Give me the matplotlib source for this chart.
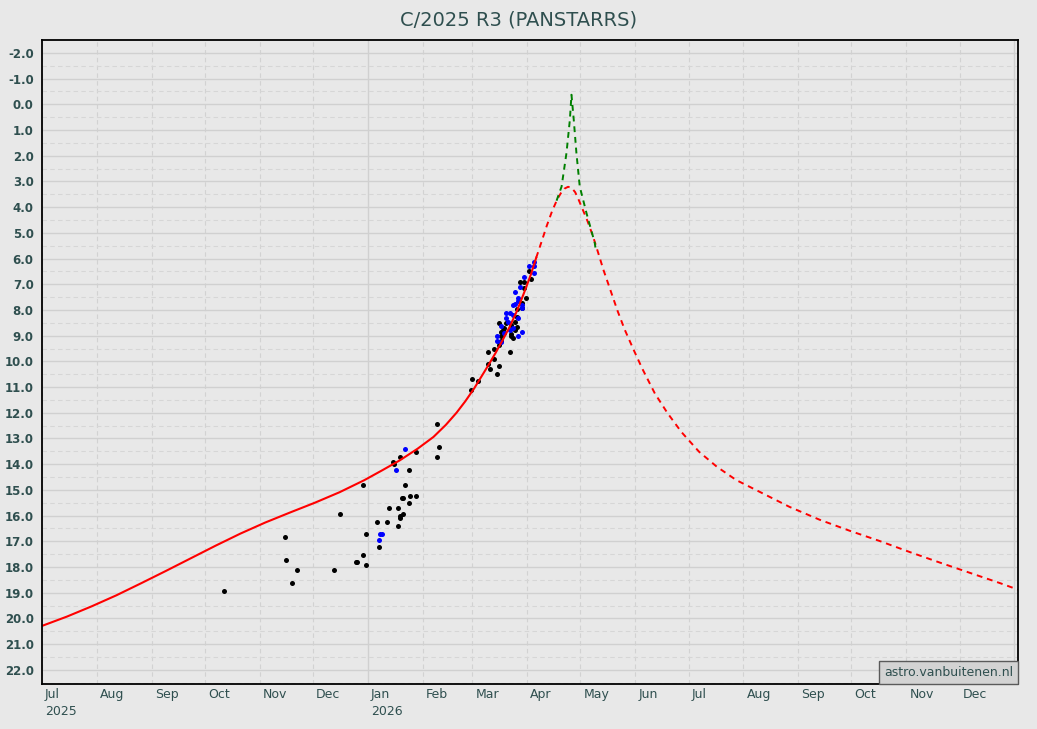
import matplotlib

matplotlib.use("Agg")
import matplotlib.pyplot as plt
import matplotlib.transforms as mtransforms
import pandas as pd
import numpy as np

TEXT = "#2f4f4f"
BG = "#e8e8e8"

# visual observations, black and blue observers
black_dates = [
    "2025-10-12", "2025-11-15", "2025-11-16", "2025-11-19", "2025-11-22",
    "2025-12-13", "2025-12-16", "2025-12-25", "2025-12-26", "2025-12-29",
    "2025-12-29", "2025-12-31", "2025-12-31", "2026-01-06", "2026-01-07",
    "2026-01-12", "2026-01-13", "2026-01-15", "2026-01-16", "2026-01-18",
    "2026-01-18", "2026-01-19", "2026-01-19", "2026-01-19", "2026-01-20",
    "2026-01-21", "2026-01-21", "2026-01-22", "2026-01-24", "2026-01-24",
    "2026-01-25", "2026-01-28", "2026-01-28", "2026-02-09", "2026-02-09",
    "2026-02-10", "2026-02-28", "2026-03-01", "2026-03-04", "2026-03-10",
    "2026-03-10", "2026-03-11", "2026-03-13", "2026-03-13", "2026-03-15",
    "2026-03-16", "2026-03-16", "2026-03-16", "2026-03-17", "2026-03-17",
    "2026-03-17", "2026-03-18", "2026-03-19", "2026-03-20", "2026-03-22",
    "2026-03-23", "2026-03-23", "2026-03-23", "2026-03-24", "2026-03-25",
    "2026-03-25", "2026-03-26", "2026-03-26", "2026-03-26", "2026-03-28",
    "2026-03-29", "2026-03-29", "2026-03-30", "2026-03-30", "2026-03-31",
    "2026-04-02", "2026-04-03",
]
black_mags = [
    18.93, 16.83, 17.72, 18.61, 18.11,
    18.11, 15.93, 17.80, 17.80, 14.80,
    17.53, 16.71, 17.91, 16.23, 17.22,
    16.23, 15.72, 13.92, 14.00, 15.72,
    16.42, 13.71, 16.01, 16.11, 15.32,
    15.32, 15.92, 14.81, 14.22, 15.52,
    15.22, 13.52, 15.22, 12.42, 13.71,
    13.33, 11.10, 10.70, 10.77, 9.62,
    10.10, 10.30, 9.51, 9.91, 10.50,
    10.20, 9.35, 8.51, 9.20, 8.84,
    9.03, 8.77, 8.71, 8.50, 9.62,
    8.58, 8.92, 9.00, 9.08, 8.45,
    8.78, 7.97, 8.28, 8.65, 6.92,
    7.74, 7.93, 6.92, 7.15, 7.52,
    6.50, 6.80,
]

blue_dates = [
    "2026-01-07", "2026-01-08", "2026-01-09", "2026-01-17", "2026-01-22",
    "2026-03-15", "2026-03-15", "2026-03-17", "2026-03-17", "2026-03-19",
    "2026-03-20", "2026-03-20", "2026-03-21", "2026-03-22", "2026-03-22",
    "2026-03-24", "2026-03-24", "2026-03-24", "2026-03-25", "2026-03-25",
    "2026-03-27", "2026-03-27", "2026-03-27", "2026-03-27", "2026-03-28",
    "2026-03-29", "2026-03-29", "2026-03-29", "2026-03-30", "2026-04-02",
    "2026-04-05", "2026-04-05", "2026-04-05",
]
blue_mags = [
    16.93, 16.72, 16.72, 14.22, 13.41,
    9.00, 9.20, 8.62, 9.25, 8.90,
    8.12, 8.32, 8.45, 8.10, 8.77,
    8.19, 8.71, 7.80, 7.76, 7.31,
    7.67, 7.52, 9.00, 8.30, 7.09,
    7.80, 7.93, 8.84, 6.70, 6.31,
    6.12, 6.31, 6.57,
]

# fitted model over the observed period
model_dates = [
    "2025-07-01", "2025-07-15", "2025-07-29", "2025-08-12", "2025-08-26",
    "2025-09-09", "2025-09-23", "2025-10-07", "2025-10-21", "2025-11-04",
    "2025-11-18", "2025-12-02", "2025-12-16", "2025-12-30", "2026-01-09",
    "2026-01-19", "2026-01-29", "2026-02-07", "2026-02-14", "2026-02-20",
    "2026-02-25", "2026-03-02", "2026-03-06", "2026-03-10", "2026-03-14",
    "2026-03-18", "2026-03-22", "2026-03-26", "2026-03-30", "2026-04-03",
    "2026-04-06",
]
model_mags = [
    20.29, 19.93, 19.53, 19.10, 18.63,
    18.15, 17.66, 17.17, 16.70, 16.27,
    15.88, 15.50, 15.09, 14.62, 14.24,
    13.85, 13.40, 12.94, 12.47, 12.00,
    11.55, 11.05, 10.60, 10.15, 9.68,
    9.18, 8.66, 8.06, 7.36, 6.62,
    5.97,
]

# prediction
pred_dates = [
    "2026-04-06", "2026-04-09", "2026-04-12", "2026-04-15", "2026-04-18",
    "2026-04-20", "2026-04-22", "2026-04-24", "2026-04-26", "2026-04-28",
    "2026-04-30", "2026-05-02", "2026-05-05", "2026-05-08", "2026-05-11",
    "2026-05-14", "2026-05-18", "2026-05-22", "2026-05-26", "2026-05-31",
    "2026-06-05", "2026-06-12", "2026-06-19", "2026-06-27", "2026-07-07",
    "2026-07-17", "2026-07-28", "2026-08-10", "2026-08-27", "2026-09-13",
    "2026-09-30", "2026-10-17", "2026-11-03", "2026-11-20", "2026-12-07",
    "2026-12-24", "2027-01-03",
]
pred_mags = [
    5.97, 5.35, 4.72, 4.15, 3.68,
    3.45, 3.28, 3.21, 3.25, 3.42,
    3.72, 4.05, 4.55, 5.12, 5.78,
    6.45, 7.25, 8.05, 8.77, 9.55,
    10.30, 11.25, 12.00, 12.75, 13.52,
    14.10, 14.62, 15.07, 15.66, 16.16,
    16.59, 16.99, 17.42, 17.83, 18.23,
    18.63, 18.88,
]

# prediction including forward scattering
fwd_dates = [
    "2026-04-17 12:00", "2026-04-20 08:00", "2026-04-23 02:00",
    "2026-04-25 00:00", "2026-04-25 22:00", "2026-04-27 05:00",
    "2026-04-28 17:00", "2026-04-30 14:00", "2026-05-04 10:00",
    "2026-05-09 02:00", "2026-05-09 14:00",
]
fwd_mags = [3.75, 3.20, 1.90, 0.61, -0.37, 0.61, 1.90, 3.20, 4.24, 5.40, 5.66]

mag_ticks = np.arange(-2, 23)

fig = plt.figure(figsize=(10.37, 7.29), dpi=100, facecolor=BG)
ax = fig.add_axes([42 / 1037, 45 / 729, 976 / 1037, 644 / 729])
ax.set_facecolor(BG)

x_start = pd.Timestamp("2025-07-01")
x_end = pd.Timestamp("2027-01-03")
months = pd.date_range("2025-07-01", "2027-01-01", freq="MS")

# grid
for m in months:
    if m.month == 1:
        ax.axvline(m, color="#d0d0d0", lw=1.0, zorder=0)
    else:
        ax.axvline(m, color="#d2d2d2", lw=0.8, ls=(0, (4, 3)), zorder=0)
for v in mag_ticks:
    ax.axhline(v, color="#d0d0d0", lw=1.0, zorder=0)
    ax.axhline(v + 0.5, color="#d6d6d6", lw=0.8, ls=(0, (4, 3)), zorder=0)

ax.plot(pd.to_datetime(black_dates), black_mags, "o", color="black",
        ms=3.6, mew=0, zorder=3)
ax.plot(pd.to_datetime(blue_dates), blue_mags, "o", color="#0000ff",
        ms=3.6, mew=0, zorder=3)
ax.plot(pd.to_datetime(model_dates), model_mags, "-", color="#ff0000",
        lw=1.5, zorder=4)
ax.plot(pd.to_datetime(pred_dates), pred_mags, color="#ff0000",
        lw=1.4, ls=(0, (3, 2.5)), zorder=4)
ax.plot(pd.to_datetime(fwd_dates), fwd_mags, color="#008000",
        lw=1.4, ls=(0, (3, 2.5)), zorder=5)

ax.set_xlim(x_start, x_end)
ax.set_ylim(22.55, -2.5)

ax.set_yticks(mag_ticks)
ax.set_yticklabels([f"{v:.1f}" for v in mag_ticks], fontsize=8.5,
                   fontweight="bold", color=TEXT)
ax.set_xticks([])
ax.tick_params(axis="y", length=0, pad=6)

for s in ax.spines.values():
    s.set_color("black")
    s.set_linewidth(1.3)
    s.set_zorder(6)

# month labels
lab_tr = mtransforms.offset_copy(ax.get_xaxis_transform(), fig=fig,
                                 x=3, y=-4, units="dots")
yr_tr = mtransforms.offset_copy(ax.get_xaxis_transform(), fig=fig,
                                x=3, y=-21, units="dots")
for i, m in enumerate(months[:-1]):
    ax.text(m, 0, m.strftime("%b"), transform=lab_tr, ha="left", va="top",
            fontsize=9, color=TEXT)
    if i == 0 or m.month == 1:
        ax.text(m, 0, m.strftime("%Y"), transform=yr_tr, ha="left",
                va="top", fontsize=9, color=TEXT)

wm_tr = mtransforms.offset_copy(ax.transAxes, fig=fig, x=-5, y=5,
                                units="dots")
ax.text(1, 0, "astro.vanbuitenen.nl", transform=wm_tr, ha="right",
        va="bottom", fontsize=9, color=TEXT, zorder=7,
        bbox=dict(boxstyle="square,pad=0.4", fc="#d3d3d3", ec="#5a5a5a",
                  lw=1.0))

fig.text(0.5, 1 - 20 / 729, "C/2025 R3 (PANSTARRS)", ha="center",
         va="center", fontsize=14, color=TEXT)

fig.savefig("out.png", dpi=100, facecolor=BG)
